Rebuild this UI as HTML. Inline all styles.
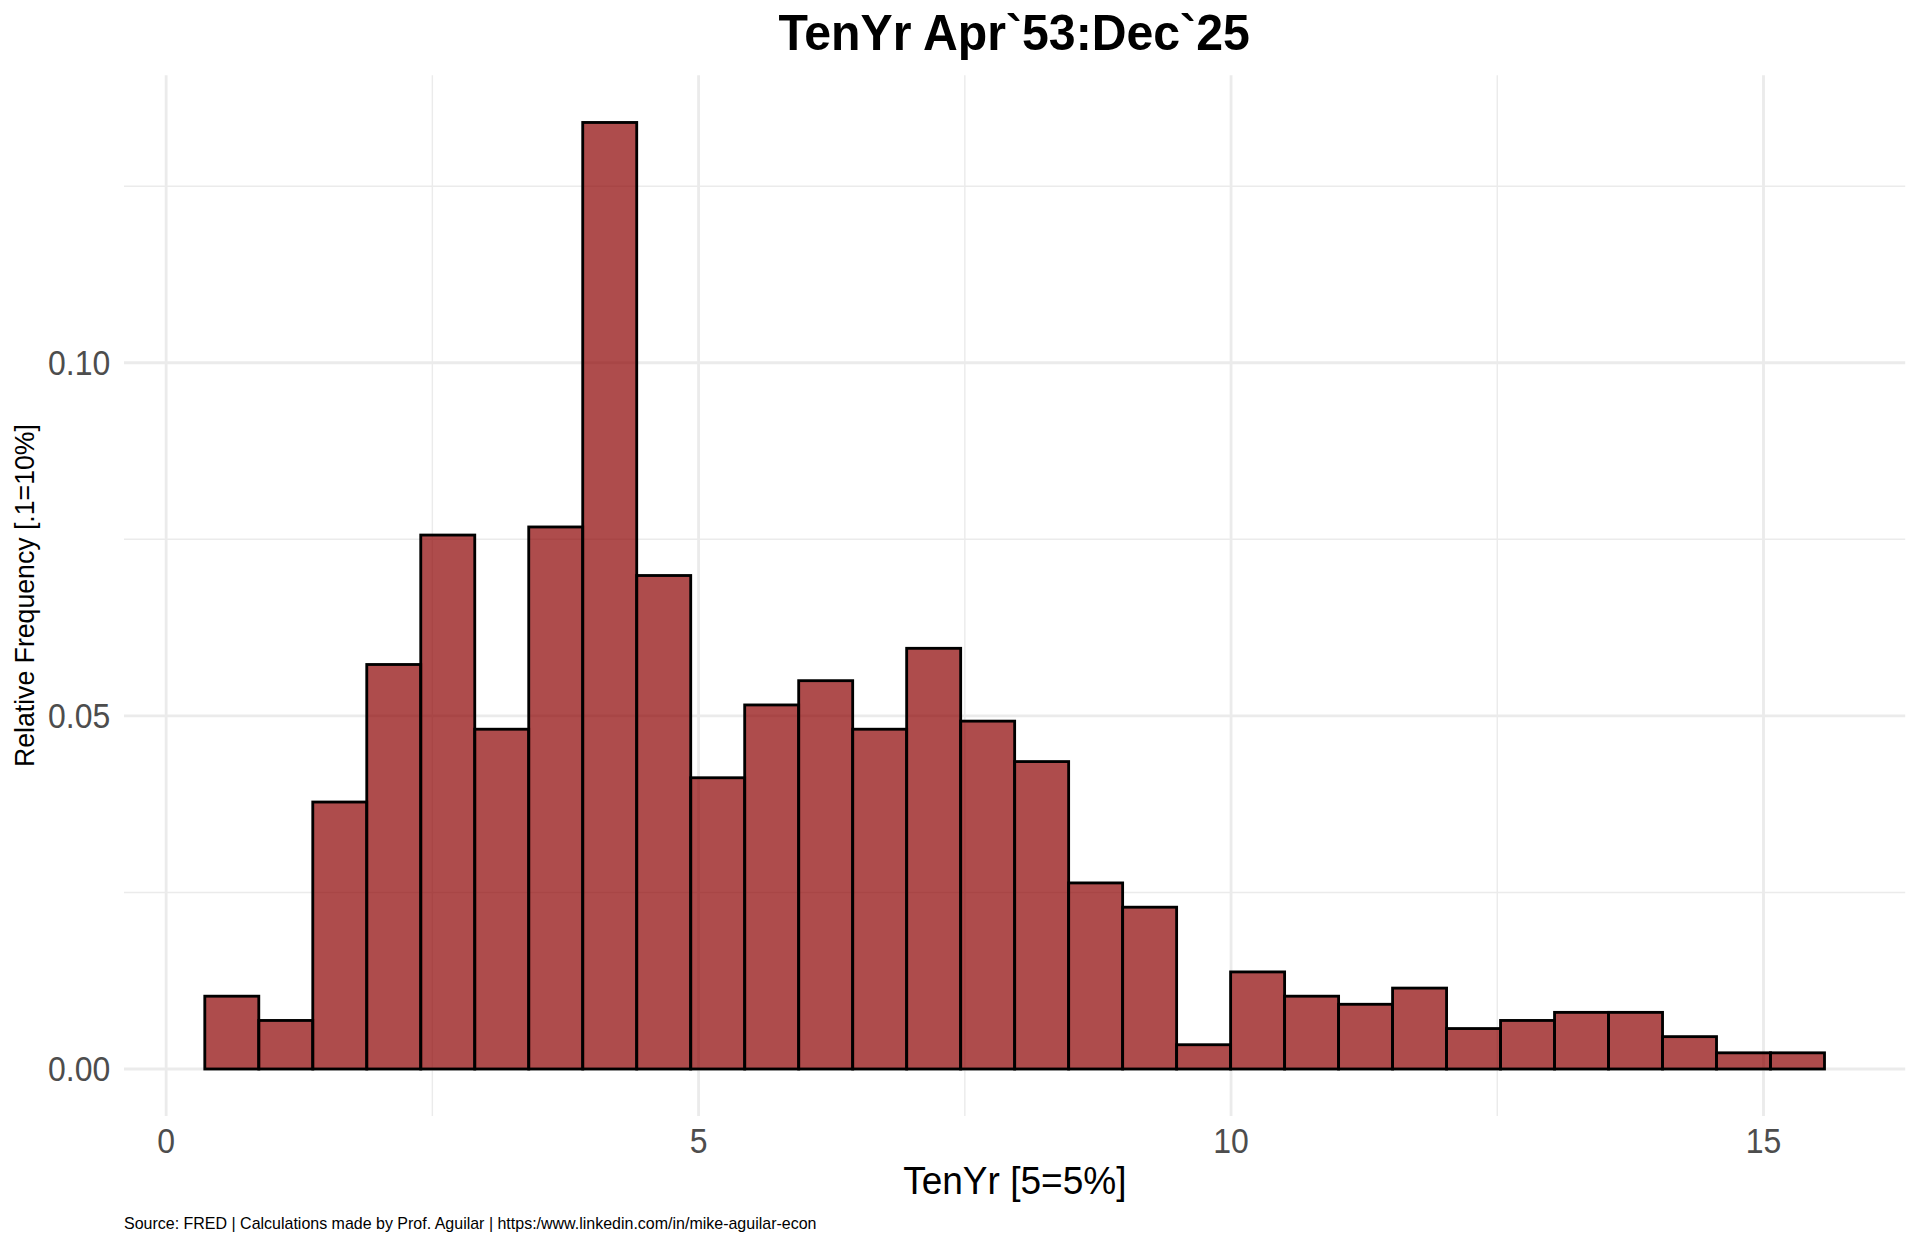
<!DOCTYPE html>
<html lang="en"><head><meta charset="utf-8"><title>TenYr Apr`53:Dec`25</title>
<style>html,body{margin:0;padding:0;background:#fff;}body{width:1920px;height:1248px;overflow:hidden;}svg{display:block;}text{font-family:"Liberation Sans",sans-serif;}</style></head><body>
<svg width="1920" height="1248" viewBox="0 0 1920 1248">
<rect width="1920" height="1248" fill="#ffffff"/>
<g stroke="#EBEBEB" stroke-width="1.42" fill="none">
<line x1="124.0" x2="1905.2" y1="892.43" y2="892.43"/>
<line x1="124.0" x2="1905.2" y1="539.30" y2="539.30"/>
<line x1="124.0" x2="1905.2" y1="186.17" y2="186.17"/>
<line y1="75.2" y2="1116.1" x1="432.38" x2="432.38"/>
<line y1="75.2" y2="1116.1" x1="964.82" x2="964.82"/>
<line y1="75.2" y2="1116.1" x1="1497.28" x2="1497.28"/>
</g>
<g stroke="#EBEBEB" stroke-width="2.84" fill="none">
<line x1="124.0" x2="1905.2" y1="1069.00" y2="1069.00"/>
<line x1="124.0" x2="1905.2" y1="715.87" y2="715.87"/>
<line x1="124.0" x2="1905.2" y1="362.74" y2="362.74"/>
<line y1="75.2" y2="1116.1" x1="166.15" x2="166.15"/>
<line y1="75.2" y2="1116.1" x1="698.60" x2="698.60"/>
<line y1="75.2" y2="1116.1" x1="1231.05" x2="1231.05"/>
<line y1="75.2" y2="1116.1" x1="1763.50" x2="1763.50"/>
</g>
<g fill="#8B0000" fill-opacity="0.7" stroke="#000000" stroke-width="2.84" stroke-linejoin="miter">
<rect x="204.80" y="996.19" width="53.99" height="72.81"/>
<rect x="258.79" y="1020.46" width="53.99" height="48.54"/>
<rect x="312.78" y="802.03" width="53.99" height="266.97"/>
<rect x="366.77" y="664.50" width="53.99" height="404.50"/>
<rect x="420.76" y="535.06" width="53.99" height="533.94"/>
<rect x="474.75" y="729.22" width="53.99" height="339.78"/>
<rect x="528.74" y="526.97" width="53.99" height="542.03"/>
<rect x="582.73" y="122.47" width="53.99" height="946.53"/>
<rect x="636.72" y="575.51" width="53.99" height="493.49"/>
<rect x="690.71" y="777.76" width="53.99" height="291.24"/>
<rect x="744.70" y="704.95" width="53.99" height="364.05"/>
<rect x="798.69" y="680.68" width="53.99" height="388.32"/>
<rect x="852.68" y="729.22" width="53.99" height="339.78"/>
<rect x="906.67" y="648.32" width="53.99" height="420.68"/>
<rect x="960.66" y="721.13" width="53.99" height="347.87"/>
<rect x="1014.65" y="761.58" width="53.99" height="307.42"/>
<rect x="1068.64" y="882.93" width="53.99" height="186.07"/>
<rect x="1122.63" y="907.20" width="53.99" height="161.80"/>
<rect x="1176.62" y="1044.73" width="53.99" height="24.27"/>
<rect x="1230.61" y="971.92" width="53.99" height="97.08"/>
<rect x="1284.60" y="996.19" width="53.99" height="72.81"/>
<rect x="1338.59" y="1004.28" width="53.99" height="64.72"/>
<rect x="1392.58" y="988.10" width="53.99" height="80.90"/>
<rect x="1446.57" y="1028.55" width="53.99" height="40.45"/>
<rect x="1500.56" y="1020.46" width="53.99" height="48.54"/>
<rect x="1554.55" y="1012.37" width="53.99" height="56.63"/>
<rect x="1608.54" y="1012.37" width="53.99" height="56.63"/>
<rect x="1662.53" y="1036.64" width="53.99" height="32.36"/>
<rect x="1716.52" y="1052.82" width="53.99" height="16.18"/>
<rect x="1770.51" y="1052.82" width="53.99" height="16.18"/>
</g>
<text transform="translate(110.30,1080.90) scale(1,1.085)" font-size="32" text-anchor="end" fill="#4D4D4D">0.00</text>
<text transform="translate(110.30,727.77) scale(1,1.085)" font-size="32" text-anchor="end" fill="#4D4D4D">0.05</text>
<text transform="translate(110.30,374.64) scale(1,1.085)" font-size="32" text-anchor="end" fill="#4D4D4D">0.10</text>
<text transform="translate(166.15,1152.60) scale(1,1.085)" font-size="32" text-anchor="middle" fill="#4D4D4D">0</text>
<text transform="translate(698.60,1152.60) scale(1,1.085)" font-size="32" text-anchor="middle" fill="#4D4D4D">5</text>
<text transform="translate(1231.05,1152.60) scale(1,1.085)" font-size="32" text-anchor="middle" fill="#4D4D4D">10</text>
<text transform="translate(1763.50,1152.60) scale(1,1.085)" font-size="32" text-anchor="middle" fill="#4D4D4D">15</text>
<text transform="translate(1014.80,1193.70) scale(1,1.05)" font-size="37.05" text-anchor="middle" fill="#000">TenYr [5=5%]</text>
<text transform="translate(34.40,595.60) rotate(-90) scale(1,1.05)" font-size="26.67" text-anchor="middle" fill="#000">Relative Frequency [.1=10%]</text>
<text transform="translate(1014.10,49.70) scale(1,1.05)" font-size="48.2" text-anchor="middle" fill="#000" font-weight="bold">TenYr Apr`53:Dec`25</text>
<text transform="translate(124.00,1229.00) scale(1,1.05)" font-size="16" text-anchor="start" fill="#000">Source: FRED | Calculations made by Prof. Aguilar | https:/www.linkedin.com/in/mike-aguilar-econ</text>
</svg></body></html>
